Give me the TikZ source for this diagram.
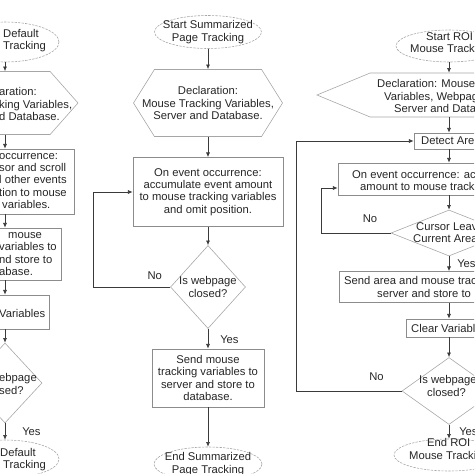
\documentclass[tikz,border=0pt]{standalone}
\usepackage{fontspec}
\setmainfont{Liberation Sans}
\usetikzlibrary{shapes.geometric, shapes.symbols, arrows.meta, calc, positioning}
\newdimen\pxu
\pxu=0.03cm
\definecolor{lineC}{HTML}{3A3A3A}
\definecolor{boxC}{HTML}{8C8C8C}
\definecolor{edgeC}{HTML}{A6A6A6}
\definecolor{txtC}{HTML}{262626}

\begin{document}
\begin{tikzpicture}[x=\pxu, y=-\pxu, font=\fontsize{9.6}{10.4}\selectfont, text=txtC,
    term/.style={ellipse, draw=edgeC, dash pattern=on 2pt off 1pt, line width=0.5pt, inner sep=0pt},
    decl/.style={signal, signal to=east and west, draw=edgeC, line width=0.5pt, inner sep=0pt},
    proc/.style={rectangle, draw=boxC, line width=0.6pt, inner sep=0pt, align=center},
    cond/.style={diamond, draw=edgeC, line width=0.5pt, inner sep=0pt},
    frag/.style={anchor=west, align=left, inner sep=0pt},
    arr/.style={->, draw=lineC, line width=0.6pt},
    >={Latex[length=4pt, width=3.4pt]}]
    \useasboundingbox (0,0) rectangle (474,474);
    \clip (0,0) rectangle (474,474);

    % left column (cut at the left edge)
    \node[term, minimum width=108\pxu, minimum height=40\pxu] (lsta) at (5,42) {};
    \node[frag] (lsta-t) at (3,40.5) {Default\\Tracking};
    \node[decl, signal pointer angle=97, minimum width=146\pxu, minimum height=63\pxu] (ldec) at (5,103) {};
    \node[frag] (ldec-t) at (-1,104) {aration:\\king Variables,\\d Database.};
    \node[proc, minimum width=138\pxu, minimum height=65\pxu] (locc) at (5,181.5) {};
    \node[frag] (locc-t) at (-1,181) {occurrence:\\sor and scroll\\l other events\\tion to mouse\\\hspace*{3\pxu}variables.};
    \node[proc, minimum width=112\pxu, minimum height=52\pxu] (lsnd) at (5,254) {};
    \node[frag] (lsnd-t) at (-1,254) {\hspace*{9\pxu}mouse\\variables to\\nd store to\\abase.};
    \node[proc, minimum width=88\pxu, minimum height=34\pxu] (lclr) at (5,312) {};
    \node[frag] (lclr-t) at (-1,313) {Variables};
    \node[cond, minimum width=74\pxu, minimum height=80\pxu] (ldia) at (5,383) {};
    \node[frag] (ldia-t) at (-1,384) {ebpage\\sed?};
    \node[term, minimum width=108\pxu, minimum height=38\pxu] (lend) at (5,459) {};
    \node[frag] (lend-t) at (0,459.5) {Default\\\hspace*{3\pxu}Tracking};

    \draw[arr] (lsta) -- (ldec);
    \draw[arr] (ldec) -- (locc);
    \draw[arr] (locc) -- (lsnd);
    \draw[arr] (lsnd) -- (lclr);
    \draw[arr] (lclr) -- (ldia);
    \draw[arr] (ldia) -- node[anchor=west, xshift=13\pxu] (lyes) {Yes} (lend);

    % middle column
    \node[term, minimum width=107\pxu, minimum height=33\pxu,
        label={[align=center]center:{Start Summarized\\Page Tracking}}] (msta) at (208,32) {};
    \node[decl, signal pointer angle=116, minimum width=149\pxu, minimum height=67\pxu,
        label={[align=center]center:{Declaration:\\Mouse Tracking Variables,\\Server and Database.}}] (mdec) at (208,103) {};
    \node[proc, minimum width=150\pxu, minimum height=69\pxu] (mocc) at (208,192)
        {On event occurrence:\\accumulate event amount\\to mouse tracking variables\\and omit position.};
    \node[cond, minimum width=75\pxu, minimum height=83\pxu,
        label={[align=center]center:{Is webpage\\closed?}}] (mdia) at (208,287) {};
    \node[proc, minimum width=112\pxu, minimum height=58\pxu] (msnd) at (208,378)
        {Send mouse\\tracking variables to\\server and store to\\database.};
    \node[term, minimum width=108\pxu, minimum height=34\pxu,
        label={[align=center]center:{End Summarized\\Page Tracking}}] (mend) at (208,464) {};

    \draw[arr] (msta) -- (mdec);
    \draw[arr] (mdec) -- (mocc);
    \draw[arr] (mocc) -- (mdia);
    \draw[arr] (mdia) -- node[anchor=west, xshift=8\pxu, yshift=-1\pxu] (myes) {Yes} (msnd);
    \draw[arr] (mdia.west) -- node[above, pos=0.2, yshift=3\pxu] (mno) {No} ++(-77,0) |- (mocc.west);
    \draw[arr] (msnd) -- (mend);

    % right column (cut at the right edge)
    \node[term, minimum width=106\pxu, minimum height=32\pxu] (rsta) at (449,46) {};
    \node[frag] (rsta-t) at (410,43) {\hspace*{16\pxu}Start ROI\\Mouse Track};
    \node[decl, signal pointer angle=45, minimum width=264\pxu, minimum height=44\pxu] (rdec) at (449,95) {};
    \node[frag] (rdec-t) at (377,96) {Declaration: Mouse\\\hspace*{7\pxu}Variables, Webpag\\\hspace*{17\pxu}Server and Data};
    \node[proc, minimum width=70\pxu, minimum height=16\pxu] (rdet) at (449,141) {};
    \node[frag] (rdet-t) at (421,141) {Detect Are};
    \node[proc, minimum width=222\pxu, minimum height=32\pxu] (rocc) at (449,179) {};
    \node[frag] (rocc-t) at (352,180.5) {On event occurrence: ac\\\hspace*{8\pxu}amount to mouse track};
    \node[cond, minimum width=116\pxu, minimum height=46\pxu] (rcur) at (449,233) {};
    \node[frag] (rcur-t) at (413,233) {\hspace*{3\pxu}Cursor Leav\\Current Area};
    \node[proc, minimum width=220\pxu, minimum height=31\pxu] (rsnd) at (449,287) {};
    \node[frag] (rsnd-t) at (344,287) {Send area and mouse trac\\\hspace*{33\pxu}server and store to};
    \node[proc, minimum width=86\pxu, minimum height=18\pxu] (rclr) at (449,328) {};
    \node[frag] (rclr-t) at (411,328) {Clear Variabl};
    \node[cond, minimum width=94\pxu, minimum height=67\pxu] (rdia) at (449,391) {};
    \node[frag] (rdia-t) at (419,386) {Is webpage\\\hspace*{8\pxu}closed?};
    \node[term, minimum width=110\pxu, minimum height=32\pxu] (rend) at (449,455) {};
    \node[frag] (rend-t) at (409,449) {\hspace*{18\pxu}End ROI\\Mouse Tracki};

    \draw[arr] (rsta) -- (rdec);
    \draw[arr] (rdec) -- (rdet);
    \draw[arr] (rdet) -- (rocc);
    \draw[arr] (rocc) -- (rcur);
    \draw[arr] (rcur) -- node[anchor=west, xshift=4\pxu] (ryes1) {Yes} (rsnd);
    \draw[arr] (rcur.west) -- node[above, pos=0.3, yshift=6\pxu] (rno1) {No} ++(-69,0) |- ($(rocc.west)+(0,9)$);
    \draw[arr] (rsnd) -- (rclr);
    \draw[arr] (rclr) -- (rdia);
    \draw[arr] (rdia) -- node[anchor=west, xshift=6\pxu] (ryes2) {Yes} (rend);
    \draw[arr] (rdia.west) -- node[above, pos=0.24, yshift=6\pxu] (rno2) {No} ++(-105,0) |- (rdet.west);
\end{tikzpicture}
\end{document}
